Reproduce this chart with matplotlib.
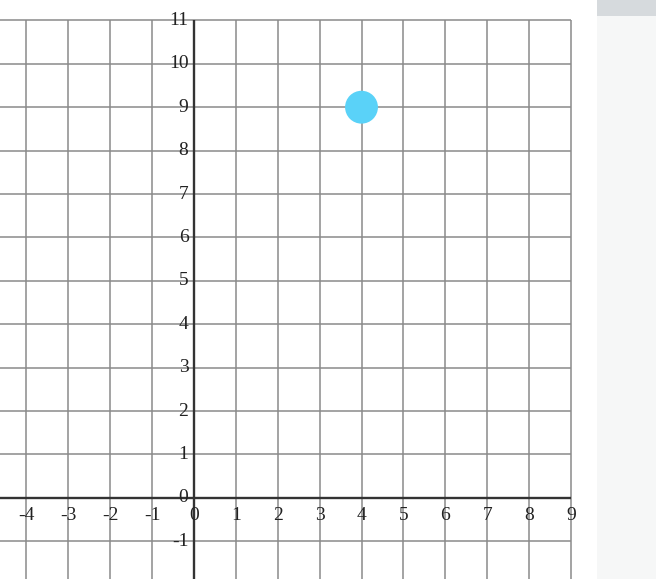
import matplotlib.pyplot as plt
from matplotlib.patches import Rectangle

# grid values
x_ticks = [-4, -3, -2, -1, 0, 1, 2, 3, 4, 5, 6, 7, 8, 9]
y_ticks = [-2, -1, 0, 1, 2, 3, 4, 5, 6, 7, 8, 9, 10, 11]
grid_x = [-5, -4, -3, -2, -1, 1, 2, 3, 4, 5, 6, 7, 8, 9]
grid_y = [-2, -1, 1, 2, 3, 4, 5, 6, 7, 8, 9, 10, 11]
point_x = [4]
point_y = [9]

plt.rcParams['font.family'] = ['Liberation Serif', 'DejaVu Serif']

fig = plt.figure(figsize=(6.56, 5.79), dpi=100)
ax = fig.add_axes([0, 0, 1, 1])
ax.set_xlim(-4.63, 11.03)
ax.set_ylim(-1.87, 11.47)
ax.axis('off')

# right side panel
fig.patches.append(Rectangle((597 / 656, 0), 1, 1, transform=fig.transFigure,
                             facecolor='#f6f7f7', edgecolor='none', zorder=0))
fig.patches.append(Rectangle((597 / 656, 1 - 16 / 579), 1, 16 / 579, transform=fig.transFigure,
                             facecolor='#d6dadd', edgecolor='none', zorder=0))

gx_min, gx_max = -5, 9
gy_min, gy_max = -3, 11
ax.vlines(grid_x, gy_min, gy_max, color='#8a8a8a', lw=1.1, zorder=1)
ax.hlines(grid_y, gx_min, gx_max, color='#8a8a8a', lw=1.1, zorder=1)
ax.vlines([0], gy_min, gy_max, color='#333333', lw=1.7, zorder=2)
ax.hlines([0], gx_min, gx_max, color='#333333', lw=1.7, zorder=2)

for x in x_ticks:
    ax.annotate(str(x), (x, 0), xytext=(0, -13), textcoords='offset points',
                ha='center', va='center', fontsize=14, color='#222222', zorder=3)
for y in y_ticks:
    ax.annotate(str(y), (0, y), xytext=(-4, 0), textcoords='offset points',
                ha='right', va='center', fontsize=14, color='#222222', zorder=3)

ax.scatter(point_x, point_y, s=560, color='#5ad2f8', edgecolors='none', zorder=4)

fig.savefig('out.png', dpi=100)
